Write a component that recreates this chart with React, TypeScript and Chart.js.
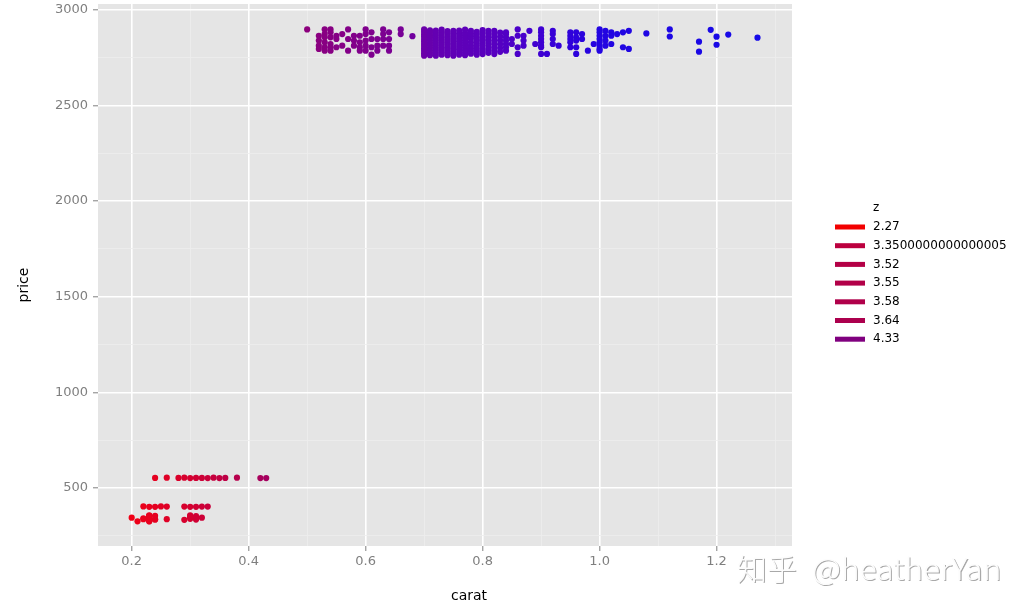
import React, { useEffect, useRef } from "react";
import { Chart, registerables } from "chart.js";

Chart.register(...registerables);

// ---------- data ----------
// low-price cluster, [carat, price]
const lowPoints: [number, number][] = [
  [0.23, 326], [0.21, 326], [0.23, 327], [0.29, 334], [0.31, 335], [0.24, 336],
  [0.24, 336], [0.26, 337], [0.22, 337], [0.23, 338], [0.30, 339], [0.23, 340],
  [0.22, 342], [0.31, 344], [0.20, 345], [0.32, 345], [0.30, 348], [0.30, 351],
  [0.30, 351], [0.23, 352], [0.23, 353], [0.31, 353], [0.23, 354], [0.24, 355],
  [0.30, 357], [0.23, 357],
];
const row400Points: [number, number][] = [
  [0.22, 404], [0.23, 402], [0.24, 402], [0.25, 404], [0.26, 403],
  [0.29, 403], [0.30, 402], [0.31, 402], [0.32, 403], [0.33, 403],
];
const row550Points: [number, number][] = [
  [0.24, 553], [0.26, 554], [0.28, 553], [0.29, 554], [0.30, 552], [0.31, 553],
  [0.32, 553], [0.33, 552], [0.34, 554], [0.35, 552], [0.36, 553], [0.38, 554],
  [0.42, 552], [0.43, 552],
];
// high-price cluster, left part (0.50 - 0.69 carat)
const highLeftPoints: [number, number][] = [
  [0.50, 2897],
  [0.52, 2864], [0.52, 2839], [0.52, 2812], [0.52, 2795],
  [0.53, 2897], [0.53, 2873], [0.53, 2856], [0.53, 2830], [0.53, 2804], [0.53, 2786],
  [0.54, 2897], [0.54, 2882], [0.54, 2856], [0.54, 2821], [0.54, 2804], [0.54, 2786],
  [0.55, 2864], [0.55, 2847], [0.55, 2804],
  [0.56, 2873], [0.56, 2812],
  [0.57, 2897], [0.57, 2847], [0.57, 2786],
  [0.58, 2864], [0.58, 2839], [0.58, 2812],
  [0.59, 2864], [0.59, 2830], [0.59, 2804], [0.59, 2786],
  [0.60, 2897], [0.60, 2873], [0.60, 2839], [0.60, 2812], [0.60, 2786],
  [0.61, 2882], [0.61, 2847], [0.61, 2804], [0.61, 2765],
  [0.62, 2847], [0.62, 2812], [0.62, 2786],
  [0.63, 2897], [0.63, 2873], [0.63, 2847], [0.63, 2812],
  [0.64, 2882], [0.64, 2847], [0.64, 2812], [0.64, 2786],
  [0.66, 2897], [0.66, 2873],
  [0.68, 2862],
];
// high-price cluster, dense core (0.70 - 0.89 carat)
const highCorePoints: [number, number][] = [
  [0.70, 2760], [0.70, 2772], [0.70, 2785], [0.70, 2797], [0.70, 2810], [0.70, 2822], [0.70, 2835], [0.70, 2847], [0.70, 2860], [0.70, 2872], [0.70, 2885], [0.70, 2897],
  [0.71, 2762], [0.71, 2775], [0.71, 2788], [0.71, 2801], [0.71, 2814], [0.71, 2827], [0.71, 2840], [0.71, 2853], [0.71, 2866], [0.71, 2879], [0.71, 2892],
  [0.72, 2760], [0.72, 2774], [0.72, 2787], [0.72, 2800], [0.72, 2813], [0.72, 2826], [0.72, 2839], [0.72, 2852], [0.72, 2865], [0.72, 2878], [0.72, 2891],
  [0.73, 2765], [0.73, 2778], [0.73, 2791], [0.73, 2804], [0.73, 2817], [0.73, 2830], [0.73, 2843], [0.73, 2856], [0.73, 2869], [0.73, 2882], [0.73, 2896],
  [0.74, 2762], [0.74, 2776], [0.74, 2790], [0.74, 2804], [0.74, 2818], [0.74, 2832], [0.74, 2846], [0.74, 2860], [0.74, 2874], [0.74, 2888],
  [0.75, 2760], [0.75, 2773], [0.75, 2786], [0.75, 2799], [0.75, 2812], [0.75, 2825], [0.75, 2838], [0.75, 2851], [0.75, 2864], [0.75, 2877], [0.75, 2890],
  [0.76, 2765], [0.76, 2779], [0.76, 2793], [0.76, 2807], [0.76, 2821], [0.76, 2835], [0.76, 2849], [0.76, 2863], [0.76, 2877], [0.76, 2891],
  [0.77, 2762], [0.77, 2775], [0.77, 2788], [0.77, 2801], [0.77, 2814], [0.77, 2827], [0.77, 2840], [0.77, 2853], [0.77, 2866], [0.77, 2879], [0.77, 2896],
  [0.78, 2770], [0.78, 2784], [0.78, 2798], [0.78, 2812], [0.78, 2830], [0.78, 2848], [0.78, 2862], [0.78, 2876], [0.78, 2890],
  [0.79, 2765], [0.79, 2780], [0.79, 2795], [0.79, 2810], [0.79, 2825], [0.79, 2840], [0.79, 2855], [0.79, 2870], [0.79, 2885],
  [0.80, 2768], [0.80, 2782], [0.80, 2796], [0.80, 2814], [0.80, 2832], [0.80, 2846], [0.80, 2860], [0.80, 2878], [0.80, 2894],
  [0.81, 2775], [0.81, 2790], [0.81, 2805], [0.81, 2823], [0.81, 2840], [0.81, 2858], [0.81, 2875], [0.81, 2890],
  [0.82, 2768], [0.82, 2785], [0.82, 2802], [0.82, 2820], [0.82, 2838], [0.82, 2856], [0.82, 2873], [0.82, 2890],
  [0.83, 2780], [0.83, 2800], [0.83, 2820], [0.83, 2840], [0.83, 2860], [0.83, 2880],
  [0.84, 2786], [0.84, 2804], [0.84, 2821], [0.84, 2839], [0.84, 2856], [0.84, 2873], [0.84, 2882],
  [0.85, 2847], [0.85, 2821],
  [0.86, 2897], [0.86, 2864], [0.86, 2804], [0.86, 2769],
  [0.87, 2864], [0.87, 2839], [0.87, 2812],
  [0.88, 2890],
  [0.89, 2821],
];
// high-price cluster, right part (0.90 - 1.27 carat)
const highRightPoints: [number, number][] = [
  [0.90, 2897], [0.90, 2882], [0.90, 2864], [0.90, 2847], [0.90, 2830], [0.90, 2812], [0.90, 2804], [0.90, 2769],
  [0.91, 2769],
  [0.92, 2890], [0.92, 2873], [0.92, 2847], [0.92, 2821],
  [0.93, 2812],
  [0.95, 2882], [0.95, 2864], [0.95, 2847], [0.95, 2830], [0.95, 2804],
  [0.96, 2882], [0.96, 2856], [0.96, 2839], [0.96, 2804], [0.96, 2769],
  [0.97, 2873], [0.97, 2847],
  [0.98, 2786],
  [0.99, 2821],
  [1.00, 2897], [1.00, 2882], [1.00, 2864], [1.00, 2847], [1.00, 2830], [1.00, 2812], [1.00, 2795], [1.00, 2786],
  [1.01, 2890], [1.01, 2864], [1.01, 2839], [1.01, 2812],
  [1.02, 2882], [1.02, 2864], [1.02, 2821],
  [1.03, 2873],
  [1.04, 2882], [1.04, 2804],
  [1.05, 2890], [1.05, 2795],
  [1.08, 2876],
  [1.12, 2897], [1.12, 2860],
  [1.17, 2833], [1.17, 2781],
  [1.19, 2895],
  [1.20, 2859], [1.20, 2817],
  [1.22, 2870],
  [1.27, 2854],
];

const xMajorTicks = [0.2, 0.4, 0.6, 0.8, 1.0, 1.2];
const xMinorTicks = [0.3, 0.5, 0.7, 0.9, 1.1, 1.3];
const yMajorTicks = [500, 1000, 1500, 2000, 2500, 3000];
const yMinorTicks = [250, 750, 1250, 1750, 2250, 2750];

const legendTitle = "z";
const legendLabels = ["2.27", "3.3500000000000005", "3.52", "3.55", "3.58", "3.64", "4.33"];
const legendColors = ["#f20000", "#bc003f", "#b40046", "#b20048", "#b0004a", "#ac004e", "#80007f"];

// colour ramp used for the points (carat -> colour)
const rampStops: [number, [number, number, number]][] = [
  [0.20, [240, 0, 22]],
  [0.30, [212, 0, 48]],
  [0.43, [165, 0, 95]],
  [0.50, [140, 0, 125]],
  [0.66, [120, 0, 150]],
  [0.72, [100, 0, 178]],
  [0.82, [88, 0, 192]],
  [0.92, [55, 0, 215]],
  [1.00, [35, 5, 225]],
  [1.27, [22, 10, 232]],
];

function rampColor(c: number): string {
  if (c <= rampStops[0][0]) {
    const k = rampStops[0][1];
    return `rgb(${k[0]},${k[1]},${k[2]})`;
  }
  for (let i = 1; i < rampStops.length; i++) {
    const [c1, k1] = rampStops[i];
    const [c0, k0] = rampStops[i - 1];
    if (c <= c1) {
      const t = (c - c0) / (c1 - c0);
      const m = (a: number, b: number) => Math.round(a + (b - a) * t);
      return `rgb(${m(k0[0], k1[0])},${m(k0[1], k1[1])},${m(k0[2], k1[2])})`;
    }
  }
  const k = rampStops[rampStops.length - 1][1];
  return `rgb(${k[0]},${k[1]},${k[2]})`;
}

const FONT = '"DejaVu Sans", sans-serif';

const isMajor = (v: number, majors: number[]) => majors.some((m) => Math.abs(m - v) < 1e-6);

const decorPlugin = {
  id: "decor",
  beforeDraw(chart: any) {
    const { ctx, chartArea: a, width, height } = chart;
    ctx.save();
    ctx.fillStyle = "#ffffff";
    ctx.fillRect(0, 0, width, height);
    ctx.fillStyle = "#e5e5e5";
    ctx.fillRect(a.left, a.top, a.right - a.left, a.bottom - a.top);
    ctx.restore();
  },
  afterDraw(chart: any) {
    const { ctx } = chart;
    ctx.save();
    // axis titles
    ctx.fillStyle = "#000";
    ctx.font = `14px ${FONT}`;
    ctx.textAlign = "center";
    ctx.textBaseline = "alphabetic";
    ctx.fillText("carat", 469, 600);
    ctx.save();
    ctx.translate(24, 285);
    ctx.rotate(-Math.PI / 2);
    ctx.textBaseline = "middle";
    ctx.fillText("price", 0, 0);
    ctx.restore();

    // legend
    ctx.font = `12px ${FONT}`;
    ctx.textAlign = "left";
    ctx.textBaseline = "middle";
    ctx.fillStyle = "#000";
    ctx.fillText(legendTitle, 873, 208);
    legendLabels.forEach((lab, i) => {
      const y = 227 + i * 18.7;
      ctx.fillStyle = legendColors[i];
      ctx.fillRect(835, y - 2.5, 30, 5);
      ctx.fillStyle = "#000";
      ctx.fillText(lab, 873, y);
    });

    // watermark
    ctx.font = `300 30px "Noto Sans CJK SC", sans-serif`;
    ctx.textBaseline = "alphabetic";
    const draw = (t: string, x: number, y: number, sx: number) => {
      ctx.save();
      ctx.translate(x, y);
      ctx.scale(sx, 1);
      ctx.fillStyle = "rgba(140,140,140,0.75)";
      ctx.fillText(t, 1, 1);
      ctx.fillStyle = "rgba(252,252,252,1)";
      ctx.fillText(t, 0, 0);
      ctx.restore();
    };
    draw("知乎", 737, 580, 1);
    draw("@heatherYan", 812, 580, 1.06);
    ctx.restore();
  },
};

function toXY(points: [number, number][]) {
  return points.map(([x, y]) => ({ x, y }));
}

export default function App() {
  const ref = useRef<HTMLCanvasElement | null>(null);

  useEffect(() => {
    if (!ref.current) return;
    const pointColor = (ctx: any) => rampColor(ctx.raw ? ctx.raw.x : 0.2);
    const mk = (label: string, pts: [number, number][]) => ({
      label,
      data: toXY(pts),
      pointRadius: 3.1,
      pointBorderWidth: 0,
      pointBackgroundColor: pointColor,
      pointBorderColor: pointColor,
      showLine: false,
    });
    const chart = new Chart(ref.current, {
      type: "scatter",
      data: {
        datasets: [
          mk("low", lowPoints),
          mk("row400", row400Points),
          mk("row550", row550Points),
          mk("highLeft", highLeftPoints),
          mk("highCore", highCorePoints),
          mk("highRight", highRightPoints),
        ],
      },
      options: {
        animation: false,
        responsive: true,
        maintainAspectRatio: false,
        events: [],
        layout: { padding: { left: 0, top: 3, right: 235, bottom: 0 } },
        plugins: {
          legend: { display: false },
          tooltip: { enabled: false },
        },
        scales: {
          x: {
            type: "linear",
            min: 0.1424,
            max: 1.329,
            afterBuildTicks: (scale: any) => {
              scale.ticks = [...xMajorTicks, ...xMinorTicks]
                .sort((a, b) => a - b)
                .map((v) => ({ value: v }));
            },
            afterFit: (scale: any) => {
              scale.height = 64;
              scale.paddingLeft = 0;
              scale.paddingRight = 0;
            },
            border: { display: false },
            grid: {
              drawOnChartArea: true,
              drawTicks: true,
              tickLength: 5,
              color: (c: any) => (isMajor(c.tick?.value, xMajorTicks) ? "#ffffff" : "#ededed"),
              lineWidth: (c: any) => (isMajor(c.tick?.value, xMajorTicks) ? 1.6 : 0.8),
              tickColor: (c: any) => (isMajor(c.tick?.value, xMajorTicks) ? "#7f7f7f" : "rgba(0,0,0,0)"),
              tickWidth: 1,
            },
            ticks: {
              autoSkip: false,
              maxRotation: 0,
              padding: 3,
              color: "#7f7f7f",
              font: { family: FONT, size: 13 },
              callback: (v: any) => (isMajor(Number(v), xMajorTicks) ? Number(v).toFixed(1) : ""),
            },
          },
          y: {
            type: "linear",
            min: 197,
            max: 3030,
            afterBuildTicks: (scale: any) => {
              scale.ticks = [...yMajorTicks, ...yMinorTicks]
                .sort((a, b) => a - b)
                .map((v) => ({ value: v }));
            },
            afterFit: (scale: any) => {
              scale.width = 98;
              scale.paddingTop = 0;
              scale.paddingBottom = 0;
            },
            border: { display: false },
            grid: {
              drawOnChartArea: true,
              drawTicks: true,
              tickLength: 5,
              color: (c: any) => (isMajor(c.tick?.value, yMajorTicks) ? "#ffffff" : "#ededed"),
              lineWidth: (c: any) => (isMajor(c.tick?.value, yMajorTicks) ? 1.6 : 0.8),
              tickColor: (c: any) => (isMajor(c.tick?.value, yMajorTicks) ? "#7f7f7f" : "rgba(0,0,0,0)"),
              tickWidth: 1,
            },
            ticks: {
              autoSkip: false,
              padding: 5,
              color: "#7f7f7f",
              font: { family: FONT, size: 13 },
              callback: (v: any) => (isMajor(Number(v), yMajorTicks) ? String(v) : ""),
            },
          },
        },
      },
      plugins: [decorPlugin],
    });
    return () => chart.destroy();
  }, []);

  return (
    <div style={{ position: "fixed", left: 0, top: 0, width: 1027, height: 610, background: "#fff" }}>
      <canvas ref={ref} />
    </div>
  );
}
